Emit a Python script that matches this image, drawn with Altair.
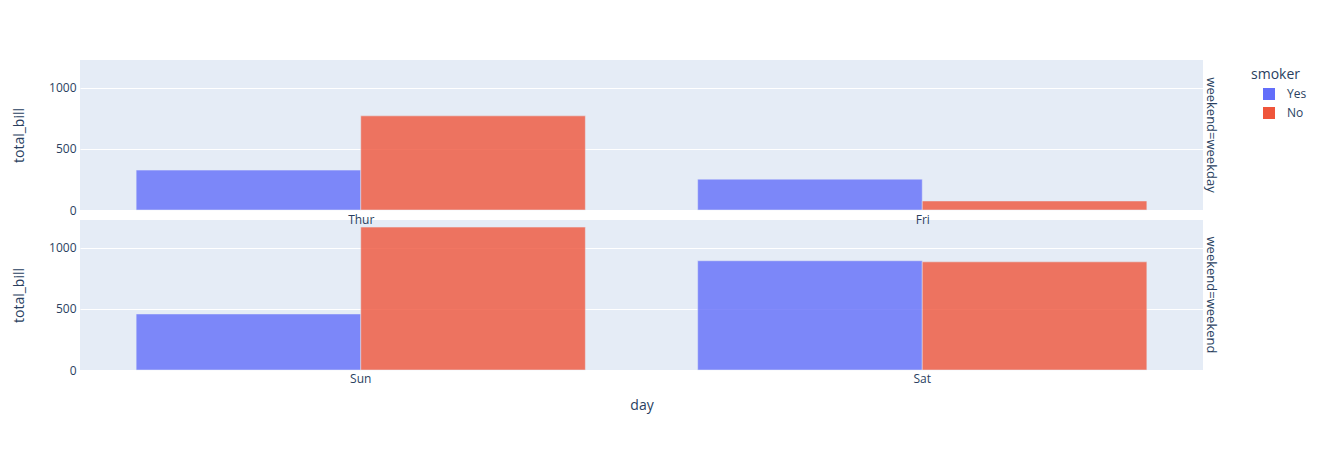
import altair as alt
import pandas as pd

days = ["Thur", "Thur", "Fri", "Fri", "Sun", "Sun", "Sat", "Sat"]
smokers = ["Yes", "No", "Yes", "No", "Yes", "No", "Yes", "No"]
weekend = ["weekday"] * 4 + ["weekend"] * 4
totals = [326.24, 770.09, 252.20, 73.68, 458.28, 1168.88, 893.62, 884.78]

top_days = ["Thur", "Fri"]
bottom_days = ["Sun", "Sat"]
smoker_order = ["Yes", "No"]
colors = ["#636efa", "#EF553B"]
y_ticks = [0, 500, 1000]

df = pd.DataFrame({"day": days, "smoker": smokers, "weekend": weekend, "total_bill": totals})
df_top = df[df.weekend == "weekday"]
df_bot = df[df.weekend == "weekend"]

TXT = "#2a3f5f"
W, H = 1123, 150
x_scale = dict(paddingInner=0.2, paddingOuter=0.1)
y_enc = alt.Y(
    "total_bill:Q", title="total_bill",
    scale=alt.Scale(domain=[0, 1227], nice=False),
    axis=alt.Axis(values=y_ticks, format="d", ticks=False, domain=False, labelPadding=4,
                  labelFontSize=12, labelColor=TXT, gridColor="white", gridWidth=1,
                  titleFontSize=14, titleColor=TXT, titleFontWeight="normal", titlePadding=22),
)
color_enc = alt.Color(
    "smoker:N", sort=smoker_order,
    scale=alt.Scale(domain=smoker_order, range=colors),
    legend=alt.Legend(title="smoker", orient="none", legendX=1171, legendY=8,
                      titleFontSize=14, titleColor=TXT, titleFontWeight="normal",
                      labelFontSize=12, labelColor=TXT, symbolType="square",
                      symbolSize=144, symbolOpacity=1, symbolStrokeWidth=0,
                      symbolOffset=12, labelOffset=12, rowPadding=7, titlePadding=6),
)


def bars(data, order, x_axis):
    return alt.Chart(data).mark_bar(stroke="#E5ECF6", strokeWidth=0.5, opacity=0.8).encode(
        x=alt.X("day:N", sort=order, title="day", scale=alt.Scale(**x_scale), axis=x_axis),
        xOffset=alt.XOffset("smoker:N", sort=smoker_order,
                            scale=alt.Scale(domain=smoker_order, paddingInner=0, paddingOuter=0)),
        y=y_enc,
        color=color_enc,
    )


def side_title(label):
    return alt.TitleParams("weekend=" + label, orient="right", fontSize=13, color=TXT,
                           fontWeight="normal", offset=1, anchor="middle")


top = bars(df_top, top_days, None).properties(width=W, height=H, title=side_title("weekday"))

bottom_axis = alt.Axis(labelAngle=0, ticks=False, domain=False, labelPadding=3,
                       labelFontSize=12, labelColor=TXT,
                       titleFontSize=14, titleColor=TXT, titleFontWeight="normal", titlePadding=14)
bottom_bars = bars(df_bot, bottom_days, bottom_axis)

# x labels of the upper panel, drawn as a top axis so they sit over the lower panel
top_labels = alt.Chart(df_top).mark_point(opacity=0).encode(
    x=alt.X("day:N", sort=top_days, title="", scale=alt.Scale(**x_scale),
            axis=alt.Axis(orient="top", labelAngle=0, ticks=False, domain=False, grid=False,
                          labelPadding=-3, labelBaseline="alphabetic",
                          labelFontSize=12, labelColor=TXT)),
)

bottom = alt.layer(bottom_bars, top_labels).resolve_scale(x="independent").properties(
    width=W, height=H, title=side_title("weekend"))

chart = alt.vconcat(top, bottom, spacing=10, bounds="flush").resolve_scale(
    x="independent", y="shared", color="shared"
).properties(
    padding={"left": 4, "top": 52, "right": 5, "bottom": 5}
).configure(font="Open Sans").configure_view(fill="#E5ECF6", strokeWidth=0)

chart.save("out.html", embed_options={"renderer": "svg", "actions": False})
